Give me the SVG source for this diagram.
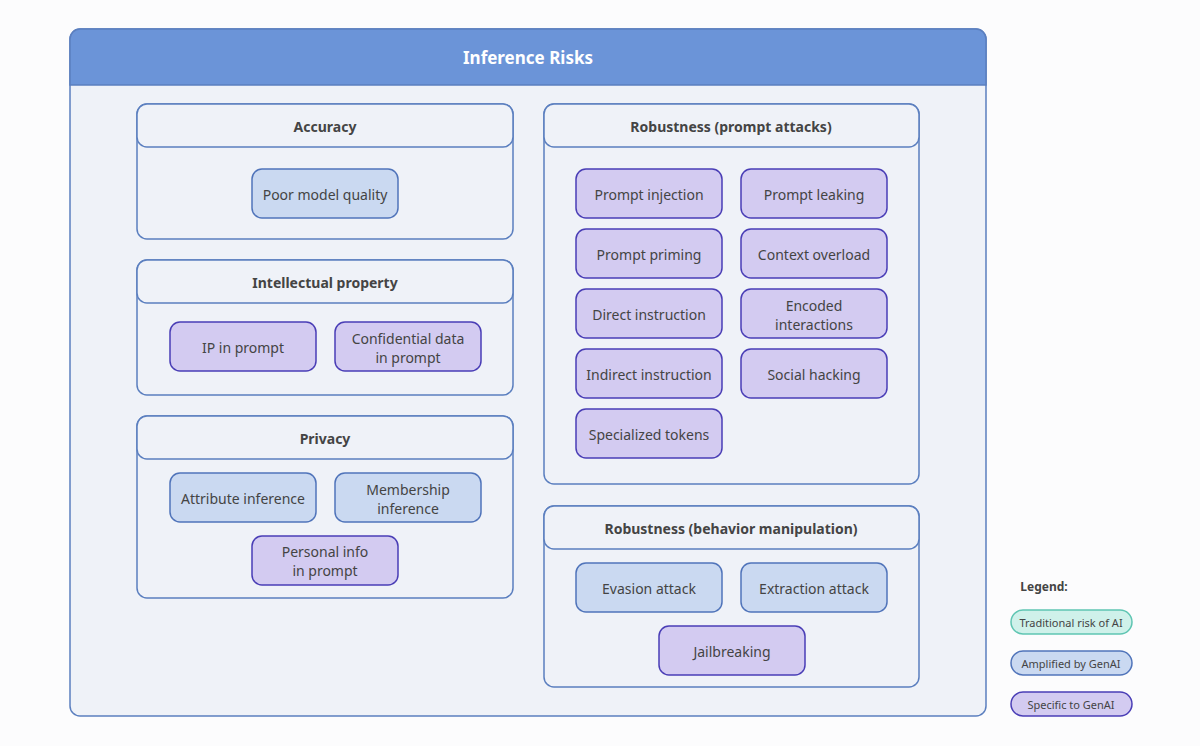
<svg xmlns="http://www.w3.org/2000/svg" width="1200" height="746" viewBox="0 0 1200 746">
<style>
text{font-family:"Noto Sans","Open Sans",sans-serif;fill:#444;text-anchor:middle;dominant-baseline:central}
.n{font-size:14px}
.h{font-size:14px;font-weight:bold}
.sec{fill:#eff2f8;stroke:#5b7fbf;stroke-width:1.5}
.amp{fill:#cad9f1;stroke:#5074ba;stroke-width:1.5}
.spec{fill:#d3cbf1;stroke:#4a3eb6;stroke-width:1.5}
.trad{fill:#cff1ea;stroke:#5fc5b2;stroke-width:1.5}
.lg{font-size:11px}
</style>
<rect width="1200" height="746" fill="#fcfcfd"/>
<g id="outer">
<rect x="70" y="29" width="916" height="687" rx="10" fill="#eff2f8" stroke="#5b7fbf" stroke-width="1.5"/>
<path d="M70 85 V39 a10 10 0 0 1 10 -10 H976 a10 10 0 0 1 10 10 V85 Z" fill="#6b94d8" stroke="#5b7fbf" stroke-width="1.5"/>
<text x="528" y="57" style="font-size:17px;font-weight:bold;fill:#fff">Inference Risks</text>
</g>
<g id="accuracy">
<rect class="sec" x="137" y="104" width="376" height="135" rx="10"/>
<rect class="sec" x="137" y="104" width="376" height="43" rx="10"/>
<text class="h" x="325" y="126">Accuracy</text>
</g>
<g id="n-poor"><rect class="amp" x="252" y="169" width="146" height="49" rx="10"/><text class="n" x="325" y="194">Poor model quality</text></g>
<g id="ip">
<rect class="sec" x="137" y="260" width="376" height="135" rx="10"/>
<rect class="sec" x="137" y="260" width="376" height="43" rx="10"/>
<text class="h" x="325" y="282">Intellectual property</text>
</g>
<g id="n-ipp"><rect class="spec" x="170" y="322" width="146" height="49" rx="10"/><text class="n" x="243" y="347">IP in prompt</text></g>
<g id="n-conf"><rect class="spec" x="335" y="322" width="146" height="49" rx="10"/><text class="n" x="408" y="338">Confidential data</text><text class="n" x="408" y="357">in prompt</text></g>
<g id="privacy">
<rect class="sec" x="137" y="416" width="376" height="182" rx="10"/>
<rect class="sec" x="137" y="416" width="376" height="43" rx="10"/>
<text class="h" x="325" y="438">Privacy</text>
</g>
<g id="n-attr"><rect class="amp" x="170" y="473" width="146" height="49" rx="10"/><text class="n" x="243" y="498">Attribute inference</text></g>
<g id="n-mem"><rect class="amp" x="335" y="473" width="146" height="49" rx="10"/><text class="n" x="408" y="489">Membership</text><text class="n" x="408" y="508">inference</text></g>
<g id="n-pers"><rect class="spec" x="252" y="536" width="146" height="49" rx="10"/><text class="n" x="325" y="551">Personal info</text><text class="n" x="325" y="570">in prompt</text></g>
<g id="robust-prompt">
<rect class="sec" x="544" y="104" width="375" height="380" rx="10"/>
<rect class="sec" x="544" y="104" width="375" height="43" rx="10"/>
<text class="h" x="731" y="126">Robustness (prompt attacks)</text>
</g>
<g id="n-pi"><rect class="spec" x="576" y="169" width="146" height="49" rx="10"/><text class="n" x="649" y="194">Prompt injection</text></g>
<g id="n-pl"><rect class="spec" x="741" y="169" width="146" height="49" rx="10"/><text class="n" x="814" y="194">Prompt leaking</text></g>
<g id="n-pp"><rect class="spec" x="576" y="229" width="146" height="49" rx="10"/><text class="n" x="649" y="254">Prompt priming</text></g>
<g id="n-co"><rect class="spec" x="741" y="229" width="146" height="49" rx="10"/><text class="n" x="814" y="254">Context overload</text></g>
<g id="n-di"><rect class="spec" x="576" y="289" width="146" height="49" rx="10"/><text class="n" x="649" y="314">Direct instruction</text></g>
<g id="n-ei"><rect class="spec" x="741" y="289" width="146" height="49" rx="10"/><text class="n" x="814" y="305">Encoded</text><text class="n" x="814" y="324">interactions</text></g>
<g id="n-ii"><rect class="spec" x="576" y="349" width="146" height="49" rx="10"/><text class="n" x="649" y="374">Indirect instruction</text></g>
<g id="n-sh"><rect class="spec" x="741" y="349" width="146" height="49" rx="10"/><text class="n" x="814" y="374">Social hacking</text></g>
<g id="n-st"><rect class="spec" x="576" y="409" width="146" height="49" rx="10"/><text class="n" x="649" y="434">Specialized tokens</text></g>
<g id="robust-behavior">
<rect class="sec" x="544" y="506" width="375" height="181" rx="10"/>
<rect class="sec" x="544" y="506" width="375" height="43" rx="10"/>
<text class="h" x="731" y="528">Robustness (behavior manipulation)</text>
</g>
<g id="n-ev"><rect class="amp" x="576" y="563" width="146" height="49" rx="10"/><text class="n" x="649" y="588">Evasion attack</text></g>
<g id="n-ex"><rect class="amp" x="741" y="563" width="146" height="49" rx="10"/><text class="n" x="814" y="588">Extraction attack</text></g>
<g id="n-jb"><rect class="spec" x="659" y="626" width="146" height="49" rx="10"/><text class="n" x="732" y="651">Jailbreaking</text></g>
<g id="connectors"></g>
<g id="legend">
<text x="1044" y="586" style="font-size:12px;font-weight:bold">Legend:</text>
<rect class="trad" x="1011" y="610" width="121" height="24" rx="12"/><text class="lg" x="1071" y="622">Traditional risk of AI</text>
<rect class="amp" x="1011" y="651" width="121" height="24" rx="12"/><text class="lg" x="1071" y="663">Amplified by GenAI</text>
<rect class="spec" x="1011" y="692" width="121" height="24" rx="12"/><text class="lg" x="1071" y="704">Specific to GenAI</text>
</g>
</svg>
